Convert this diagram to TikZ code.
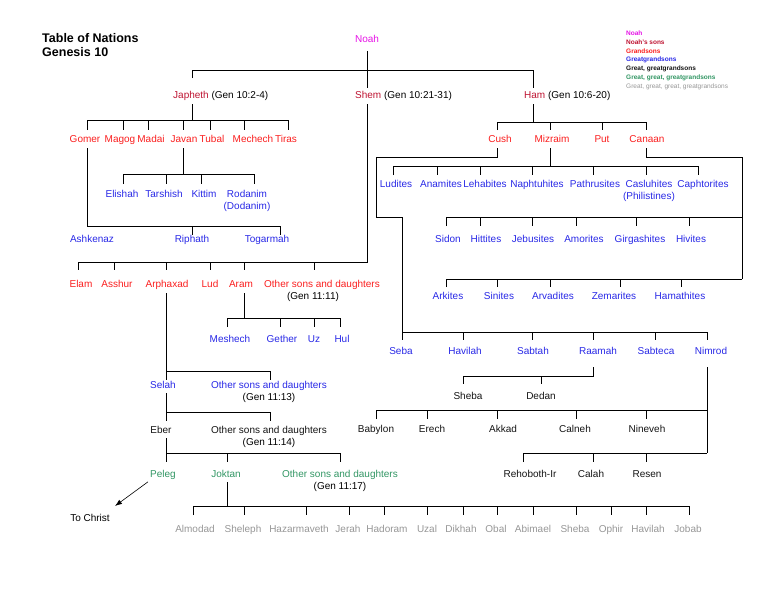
\documentclass[tikz,border=0pt]{standalone}
\usepackage{fontspec}
\setmainfont{Liberation Sans}
\usetikzlibrary{arrows.meta}
\definecolor{cNoah}{RGB}{230,20,230}
\definecolor{cSon}{RGB}{190,20,50}
\definecolor{cGs}{RGB}{250,30,30}
\definecolor{cGgs}{RGB}{40,40,230}
\definecolor{cG3}{RGB}{20,20,20}
\definecolor{cG4}{RGB}{50,150,100}
\definecolor{cG5}{RGB}{150,150,150}
\tikzset{
  t0/.style={inner sep=0pt,font=\fontsize{10}{12}\selectfont,align=center},
  t/.style={t0,text height=7.2pt,text depth=2pt},
  noah/.style={t,text=cNoah},
  son/.style={t,text=cSon},
  gs/.style={t,text=cGs},
  ggs/.style={t,text=cGgs},
  g3/.style={t,text=cG3},
  g4/.style={t,text=cG4},
  g5/.style={t,text=cG5},
  ln/.style={line width=0.9pt,black},
  leg/.style={inner sep=0pt,anchor=west,font=\fontsize{6.5}{7}\selectfont\bfseries},
}
\begin{document}
\begin{tikzpicture}[x=1pt,y=-1pt]
\useasboundingbox (0,0) rectangle (768,594);
% title
\node[anchor=west,inner sep=0pt,font=\fontsize{12.5}{14}\selectfont\bfseries,align=left] (title) at (42,45) {Table of Nations\\Genesis 10};
% legend
\node[leg,text=cNoah] (l1) at (626,33) {Noah};
\node[leg,text=cSon] (l2) at (626,42) {Noah's sons};
\node[leg,text=cGs] (l3) at (626,51) {Grandsons};
\node[leg,text=cGgs] (l4) at (626,60) {Greatgrandsons};
\node[leg,text=cG3] (l5) at (626,69) {Great, greatgrandsons};
\node[leg,text=cG4] (l6) at (626,78) {Great, great, greatgrandsons};
\node[leg,text=cG5,font=\fontsize{6.5}{7}\selectfont] (l7) at (626,87) {Great, great, great, greatgrandsons};
% Noah and sons
\node[noah] (noah) at (367,40) {Noah};
\node[t,anchor=west] (japheth) at (173,96) {\textcolor{cSon}{Japheth} (Gen 10:2-4)};
\node[t,anchor=west] (shem) at (355,96) {\textcolor{cSon}{Shem} (Gen 10:21-31)};
\node[t,anchor=west] (ham) at (524,96) {\textcolor{cSon}{Ham} (Gen 10:6-20)};
\draw[ln] (367,51) -- (367,88);
\draw[ln] (192,78) -- (192,70) -- (533,70) -- (533,88);
% Japheth
\draw[ln] (192,104) -- (192,120);
\draw[ln] (87,130) -- (87,120) -- (288,120) -- (288,130);
\foreach \x in {123,148,183,210,244} \draw[ln] (\x,120) -- (\x,130);
\node[gs] (gomer) at (85,140) {Gomer};
\node[gs] (magog) at (120,140) {Magog};
\node[gs] (madai) at (151,140) {Madai};
\node[gs] (javan) at (184,140) {Javan};
\node[gs] (tubal) at (212,140) {Tubal};
\node[gs] (mechech) at (253,140) {Mechech};
\node[gs] (tiras) at (286,140) {Tiras};
\draw[ln] (183,148) -- (183,174);
\draw[ln] (123,184) -- (123,174) -- (254,174) -- (254,184);
\foreach \x in {166,201} \draw[ln] (\x,174) -- (\x,184);
\node[ggs] (elishah) at (122,195) {Elishah};
\node[ggs] (tarshish) at (164,195) {Tarshish};
\node[ggs] (kittim) at (204,195) {Kittim};
\node[t0,text=cGgs,anchor=north] (rodanim) at (247,190) {Rodanim\\(Dodanim)};
\draw[ln] (87,148) -- (87,226) -- (280,226) -- (280,235);
\draw[ln] (192,226) -- (192,235);
\node[ggs] (ashkenaz) at (92,240) {Ashkenaz};
\node[ggs] (riphath) at (192,240) {Riphath};
\node[ggs] (togarmah) at (267,240) {Togarmah};
% Shem
\draw[ln] (367,104) -- (367,262) -- (78,262) -- (78,270);
\foreach \x in {114,166,210,244,314} \draw[ln] (\x,262) -- (\x,270);
\node[gs] (elam) at (81,285) {Elam};
\node[gs] (asshur) at (117,285) {Asshur};
\node[gs] (arphaxad) at (167,285) {Arphaxad};
\node[gs] (lud) at (210,285) {Lud};
\node[gs] (aram) at (241,285) {Aram};
\node[t0,anchor=north] (oth1) at (322,280) {\textcolor{cGs}{Other sons and daughters}\\\hspace*{-18pt}(Gen 11:11)};
\draw[ln] (244,293) -- (244,318);
\draw[ln] (227,327) -- (227,318) -- (340,318) -- (340,327);
\foreach \x in {280,314} \draw[ln] (\x,318) -- (\x,327);
\node[ggs] (meshech) at (230,340) {Meshech};
\node[ggs] (gether) at (282,340) {Gether};
\node[ggs] (uz) at (314,340) {Uz};
\node[ggs] (hul) at (342,340) {Hul};
\draw[ln] (166,293) -- (166,380);
\draw[ln] (166,371) -- (270,371) -- (270,380);
\node[ggs] (selah) at (163,386) {Selah};
\node[t0,anchor=north] (oth2) at (269,381) {\textcolor{cGgs}{Other sons and daughters}\\(Gen 11:13)};
\draw[ln] (166,393) -- (166,421);
\draw[ln] (166,412) -- (270,412) -- (270,421);
\node[g3] (eber) at (161,431) {Eber};
\node[t0,anchor=north] (oth3) at (269,426) {\textcolor{cG3}{Other sons and daughters}\\(Gen 11:14)};
\draw[ln] (166,438) -- (166,462);
\draw[ln] (166,453) -- (340,453) -- (340,462);
\draw[ln] (227,453) -- (227,462);
\node[g4] (peleg) at (163,475) {Peleg};
\node[g4] (joktan) at (226,475) {Joktan};
\node[t0,anchor=north] (oth4) at (340,470) {\textcolor{cG4}{Other sons and daughters}\\(Gen 11:17)};
\node[t] (christ) at (90,519) {To Christ};
\draw[line width=0.6pt,-{Latex[length=7pt,width=5pt]}] (peleg.south west) ++(-2,2) -- (115,506);
\draw[ln] (227,482) -- (227,506);
\draw[ln] (193,515) -- (193,506) -- (689,506) -- (689,515);
\foreach \x in {244,306,349,384,427,463,497,533,576,611,646} \draw[ln] (\x,506) -- (\x,515);
\foreach \x/\n in {195/Almodad,243/Sheleph,299/Hazarmaveth,348/Jerah,387/Hadoram,427/Uzal,461/Dikhah,496/Obal,533/Abimael,575/Sheba,611/Ophir,648/Havilah,688/Jobab}
  \node[g5] (j\x) at (\x,530) {\n};
% Ham
\draw[ln] (533,104) -- (533,122);
\draw[ln] (497,130) -- (497,122) -- (646,122) -- (646,130);
\foreach \x in {550,602} \draw[ln] (\x,122) -- (\x,130);
\node[gs] (cush) at (500,140) {Cush};
\node[gs] (mizraim) at (552,140) {Mizraim};
\node[gs] (put) at (602,140) {Put};
\node[gs] (canaan) at (647,140) {Canaan};
% Mizraim
\draw[ln] (550,148) -- (550,166);
\draw[ln] (393,175) -- (393,166) -- (698,166) -- (698,175);
\foreach \x in {437,480,532,593,646} \draw[ln] (\x,166) -- (\x,175);
\node[ggs] (ludites) at (396,185) {Ludites};
\node[ggs] (anamites) at (441,185) {Anamites};
\node[ggs] (lehabites) at (485,185) {Lehabites};
\node[ggs] (naph) at (537,185) {Naphtuhites};
\node[ggs] (pathr) at (595,185) {Pathrusites};
\node[t0,text=cGgs,anchor=north] (casl) at (649,180) {Casluhites\\(Philistines)};
\node[ggs] (caph) at (703,185) {Caphtorites};
% Cush
\draw[ln] (497,148) -- (497,157) -- (376,157) -- (376,217) -- (402,217) -- (402,340);
\draw[ln] (402,332) -- (707,332) -- (707,340);
\foreach \x in {463,532,593,655} \draw[ln] (\x,332) -- (\x,340);
\node[ggs] (seba) at (401,352) {Seba};
\node[ggs] (havilah) at (465,352) {Havilah};
\node[ggs] (sabtah) at (533,352) {Sabtah};
\node[ggs] (raamah) at (598,352) {Raamah};
\node[ggs] (sabteca) at (656,352) {Sabteca};
\node[ggs] (nimrod) at (711,352) {Nimrod};
\draw[ln] (593,367) -- (593,376) -- (463,376) -- (463,384);
\draw[ln] (541,376) -- (541,384);
\node[g3] (sheba) at (468,397) {Sheba};
\node[g3] (dedan) at (541,397) {Dedan};
\draw[ln] (707,367) -- (707,453);
\draw[ln] (376,419) -- (376,410) -- (707,410);
\foreach \x in {427,497,576,646} \draw[ln] (\x,410) -- (\x,419);
\node[g3] (babylon) at (376,430) {Babylon};
\node[g3] (erech) at (432,430) {Erech};
\node[g3] (akkad) at (503,430) {Akkad};
\node[g3] (calneh) at (575,430) {Calneh};
\node[g3] (nineveh) at (647,430) {Nineveh};
\draw[ln] (523,462) -- (523,453) -- (707,453);
\foreach \x in {593,646} \draw[ln] (\x,453) -- (\x,462);
\node[g3] (rehoboth) at (530,475) {Rehoboth-Ir};
\node[g3] (calah) at (591,475) {Calah};
\node[g3] (resen) at (647,475) {Resen};
% Canaan
\draw[ln] (646,148) -- (646,157) -- (742,157) -- (742,279);
\draw[ln] (446,226) -- (446,217) -- (742,217);
\foreach \x in {480,532,576,636,689} \draw[ln] (\x,217) -- (\x,226);
\node[ggs] (sidon) at (448,240) {Sidon};
\node[ggs] (hittites) at (486,240) {Hittites};
\node[ggs] (jebusites) at (533,240) {Jebusites};
\node[ggs] (amorites) at (584,240) {Amorites};
\node[ggs] (girg) at (640,240) {Girgashites};
\node[ggs] (hivites) at (691,240) {Hivites};
\draw[ln] (446,287) -- (446,279) -- (742,279);
\foreach \x in {497,550,620,681} \draw[ln] (\x,279) -- (\x,287);
\node[ggs] (arkites) at (448,297) {Arkites};
\node[ggs] (sinites) at (499,297) {Sinites};
\node[ggs] (arvadites) at (553,297) {Arvadites};
\node[ggs] (zemarites) at (614,297) {Zemarites};
\node[ggs] (hamathites) at (680,297) {Hamathites};
\end{tikzpicture}
\end{document}
